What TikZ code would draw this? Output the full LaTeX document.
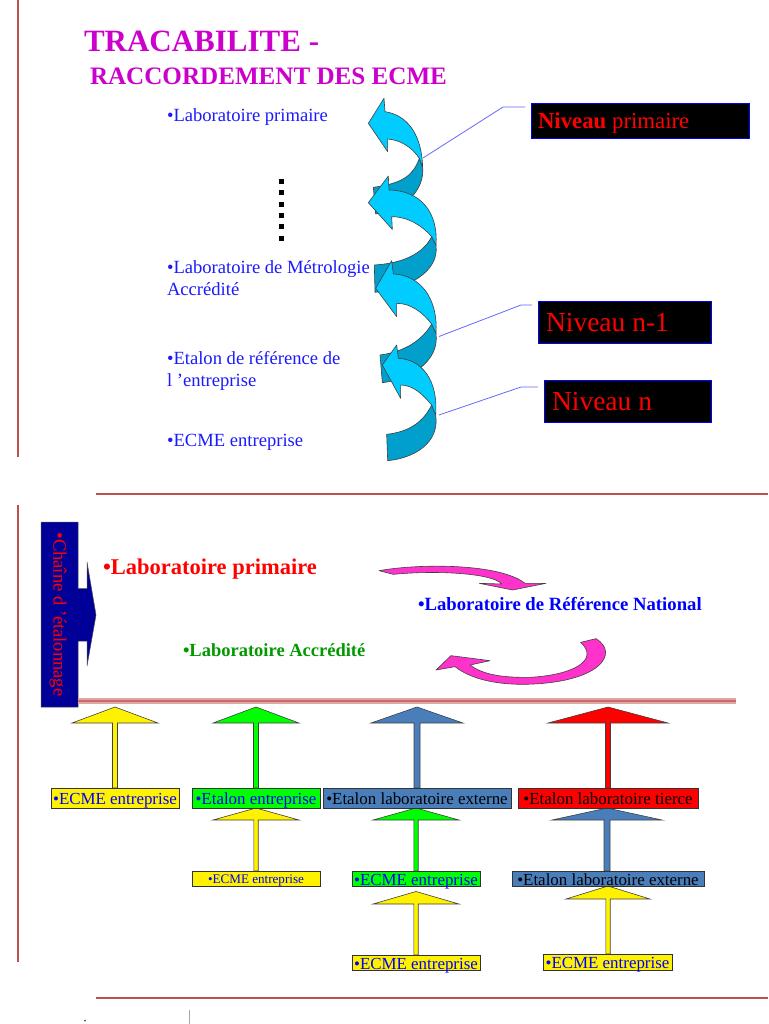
\documentclass[tikz,border=0pt]{standalone}
\usepackage{fontspec}
\setmainfont{Liberation Serif}
\usetikzlibrary{backgrounds}
\definecolor{ttl}{HTML}{CC00CC}
\definecolor{txtblue}{HTML}{1A1AFF}
\definecolor{rule}{HTML}{C0504D}
\definecolor{steel}{HTML}{4A7EBB}
\definecolor{lite}{HTML}{00CCFF}
\definecolor{deep}{HTML}{009FCC}
\definecolor{pinky}{HTML}{FF33CC}
\definecolor{leader}{HTML}{6666FF}
\definecolor{navy}{HTML}{000099}
\tikzset{
  lbl/.style={anchor=base west,inner sep=0pt,outer sep=0pt,align=left},
  tagbox/.style={draw=black!80,line width=0.7pt,inner sep=0pt,outer sep=0pt,anchor=north west},
  blackbox/.style={draw=blue,fill=black,line width=0.8pt,inner sep=0pt,outer sep=0pt,anchor=north west},
  blockarrow/.style={draw=black!75,line width=0.6pt,line join=miter},
  spiral/.style={draw=black!75,line width=0.6pt,line join=round},
  leaderline/.style={draw=leader,line width=0.8pt},
  rulemark/.style={draw=rule,line width=1.6pt}
}
\newcommand{\fs}[1]{\fontsize{#1}{#1}\selectfont}
% name, x1, y1, x2, y2, fill, text colour, font size, text
\newcommand{\tagb}[9]{\node[tagbox,fill=#6,minimum width={(#4-#2)*1pt},minimum height={(#5-#3)*1pt}] (#1) at (#2,#3) {};
  \node[text=#7,font=\fs{#8},inner sep=0pt,anchor=base] at ([yshift={-(0.34*#8+0.8)*1pt}]#1.center) {#9};}
% colour, cx, tip y, base y, half head, half shaft, lower box node
\newcommand{\uparr}[7]{\draw[blockarrow,fill=#1] ({#2-#6},#4) -- ({#2-#5},#4) -- (#2,#3) -- ({#2+#5},#4) -- ({#2+#6},#4) -- ({#2+#6},0 |- #7.north) -- ({#2-#6},0 |- #7.north) -- cycle;}
\begin{document}
\begin{tikzpicture}[x=1pt,y=-1pt]
\useasboundingbox (0,0) rectangle (768,1024);
% frame rules
\draw[rulemark] (18,0) -- (18,457);
\draw[rulemark] (18,505) -- (18,962);
\draw[rulemark] (96,494) -- (768,494);
\draw[rulemark] (96,998) -- (768,998);
\draw[draw=black!35,line width=0.8pt] (189,1010) -- (189,1024);
\fill[black!70] (85,1020.5) circle (1pt);
% titles
\node[lbl,text=ttl,font=\fs{31}\bfseries] (t1) at (84,52) {TRACABILITE -};
\node[lbl,text=ttl,font=\fs{25.1}\bfseries] (t2) at (90,84.5) {RACCORDEMENT DES ECME};
% upper list
\node[lbl,text=txtblue,font=\fs{18.6}] (u1) at (167,122) {•Laboratoire primaire};
\node[lbl,text=txtblue,font=\fs{18.6}] (u2) at (167,273) {•Laboratoire de Métrologie};
\node[lbl,text=txtblue,font=\fs{18.6}] (u2b) at (167,295.5) {Accrédité};
\node[lbl,text=txtblue,font=\fs{18.6}] (u3) at (167,364.5) {•Etalon de référence de};
\node[lbl,text=txtblue,font=\fs{18.6}] (u3b) at (167,386) {l ’entreprise};
\node[lbl,text=txtblue,font=\fs{18.6}] (u4) at (167,446.5) {•ECME entreprise};
\draw[line width=5pt,dash pattern=on 5pt off 6.3pt] (281.7,179.2) -- (281.7,241);
% spiral
\begin{scope}[shift={(340,90)},x=0.33333pt,y=-0.33333pt]
\draw[spiral,fill=deep] (238,205) .. controls (220,255) and (190,280) .. (100,292) -- (107,372) .. controls (190,365) and (255,300) .. (248,232) -- cycle;
\draw[spiral,fill=lite] (85,100) -- (132,25) -- (135,65) .. controls (200,75) and (245,130) .. (248,232) -- (238,205) .. controls (215,170) and (180,150) .. (143,147) -- (143,185) -- cycle;
\draw[spiral,fill=deep] (275,440) .. controls (250,490) and (190,520) .. (103,525) -- (105,607) .. controls (190,600) and (300,550) .. (288,465) -- cycle;
\draw[spiral,fill=lite] (85,338) -- (145,258) -- (147,300) .. controls (245,302) and (295,370) .. (288,465) -- (275,440) .. controls (250,410) and (205,380) .. (155,380) -- (157,418) -- cycle;
\draw[spiral,fill=deep] (275,702) .. controls (250,745) and (200,785) .. (120,795) -- (127,878) .. controls (200,870) and (300,820) .. (288,730) -- cycle;
\draw[spiral,fill=lite] (107,595) -- (155,512) -- (160,552) .. controls (240,555) and (295,625) .. (288,730) -- (275,702) .. controls (250,670) and (215,640) .. (170,640) -- (170,680) -- cycle;
\draw[spiral,fill=deep] (275,945) .. controls (250,995) and (210,1025) .. (140,1033) -- (143,1112) .. controls (220,1105) and (300,1060) .. (287,975) -- cycle;
\draw[spiral,fill=lite] (127,825) -- (170,765) -- (175,805) .. controls (245,808) and (295,870) .. (287,975) -- (275,945) .. controls (250,915) and (220,885) .. (182,885) -- (182,925) -- cycle;
\end{scope}
% level boxes
\node[blackbox,minimum width=218pt,minimum height=35pt] (n1) at (531,103) {};
\node[lbl,text=red,font=\fs{22.8}] at (538,129) {\textbf{Niveau} primaire};
\node[blackbox,minimum width=173pt,minimum height=42pt] (n2) at (538,301) {};
\node[lbl,text=red,font=\fs{27.5}] at (546,331) {Niveau n-1};
\node[blackbox,minimum width=167pt,minimum height=42pt] (n3) at (544,380) {};
\node[lbl,text=red,font=\fs{27.5}] at (552,410) {Niveau n};
\coordinate (s1) at (423,158);
\coordinate (s2) at (439,336.5);
\coordinate (s3) at (439,415);
\coordinate (k1) at (503,107);
\coordinate (k2) at (521,305);
\coordinate (k3) at (521,387);
\draw[leaderline] (s1) -- (k1) -- (525,107);
\draw[leaderline] (s2) -- (k2) -- (532,305);
\draw[leaderline] (s3) -- (k3) -- (538,387);
% chain arrow
\draw[draw=black!70,line width=0.5pt,fill=navy] (41,522) -- (78,522) -- (78,588.5) -- (87,588.5) -- (87,562) -- (96,615) -- (87,666) -- (87,641) -- (78,641) -- (78,707) -- (41,707) -- cycle;
\node[text=red,font=\fs{18.5},rotate=-90,inner sep=0pt] (chain) at (58,614.5) {•Chaîne d ’étalonnage};
% lower labels
\node[lbl,text=red,font=\fs{22.5}\bfseries] (l1) at (103,574) {•Laboratoire primaire};
\node[lbl,text=blue,font=\fs{18.7}\bfseries] (l2) at (418,610) {•Laboratoire de Référence National};
\node[lbl,text=black!40!green,font=\fs{18.5}\bfseries] (l3) at (183,656) {•Laboratoire Accrédité};
% curved pink arrows
\begin{scope}[shift={(360,550)},x=0.33333pt,y=-0.33333pt]
\draw[spiral,fill=pinky] (57,62) .. controls (180,40) and (420,40) .. (495,100) -- (558,100) -- (458,120) -- (358,100) -- (425,102) .. controls (400,70) and (230,60) .. (100,73) -- cycle;
\draw[spiral,fill=pinky] (662,277) -- (708,266) .. controls (780,310) and (720,400) .. (490,403) .. controls (400,403) and (330,385) .. (285,350) -- (228,360) -- (273,317) -- (390,332) -- (330,345) .. controls (370,375) and (430,383) .. (510,382) .. controls (640,375) and (720,330) .. (662,277) -- cycle;
\end{scope}
% double rule
\draw[draw=rule!50,line width=5.5pt] (78,701) -- (736,701);
\draw[draw=rule!85,line width=2pt] (78,701) -- (736,701);
% tags
\tagb{a}{51}{788}{179}{808}{yellow}{blue}{16.9}{•ECME entreprise}
\tagb{b}{192}{788}{320}{808}{green}{blue}{16.9}{•Etalon entreprise}
\tagb{c}{323}{788}{511}{808}{steel}{black}{16.9}{•Etalon laboratoire externe}
\tagb{d}{518}{788}{698}{808}{red}{black}{16.9}{•Etalon laboratoire tierce}
\tagb{e}{192}{871}{320}{886}{yellow}{blue}{13.1}{•ECME entreprise}
\tagb{f}{352}{871}{480}{886}{green}{blue}{16.9}{•ECME entreprise}
\tagb{g}{512}{871}{704}{886}{steel}{black}{16.9}{•Etalon laboratoire externe}
\tagb{h}{352}{955}{480}{970}{yellow}{blue}{16.9}{•ECME entreprise}
\tagb{i}{543}{954}{672}{970}{yellow}{blue}{16.9}{•ECME entreprise}
% block arrows
\begin{scope}[on background layer]
\uparr{yellow}{115}{707}{723}{43}{2.5}{a}
\uparr{green}{256}{707}{723}{43}{2.5}{b}
\uparr{steel}{417}{707}{723}{46}{3}{c}
\uparr{red}{608}{707}{723}{60}{2.5}{d}
\uparr{yellow}{256}{808}{820}{43}{2.2}{e}
\uparr{green}{416}{808}{820}{43}{2.2}{f}
\uparr{steel}{607}{808}{820}{55}{3}{g}
\uparr{yellow}{416}{891.5}{904}{43}{2.2}{h}
\uparr{yellow}{608}{886}{899}{42}{2.2}{i}
\end{scope}
\end{tikzpicture}
\end{document}
